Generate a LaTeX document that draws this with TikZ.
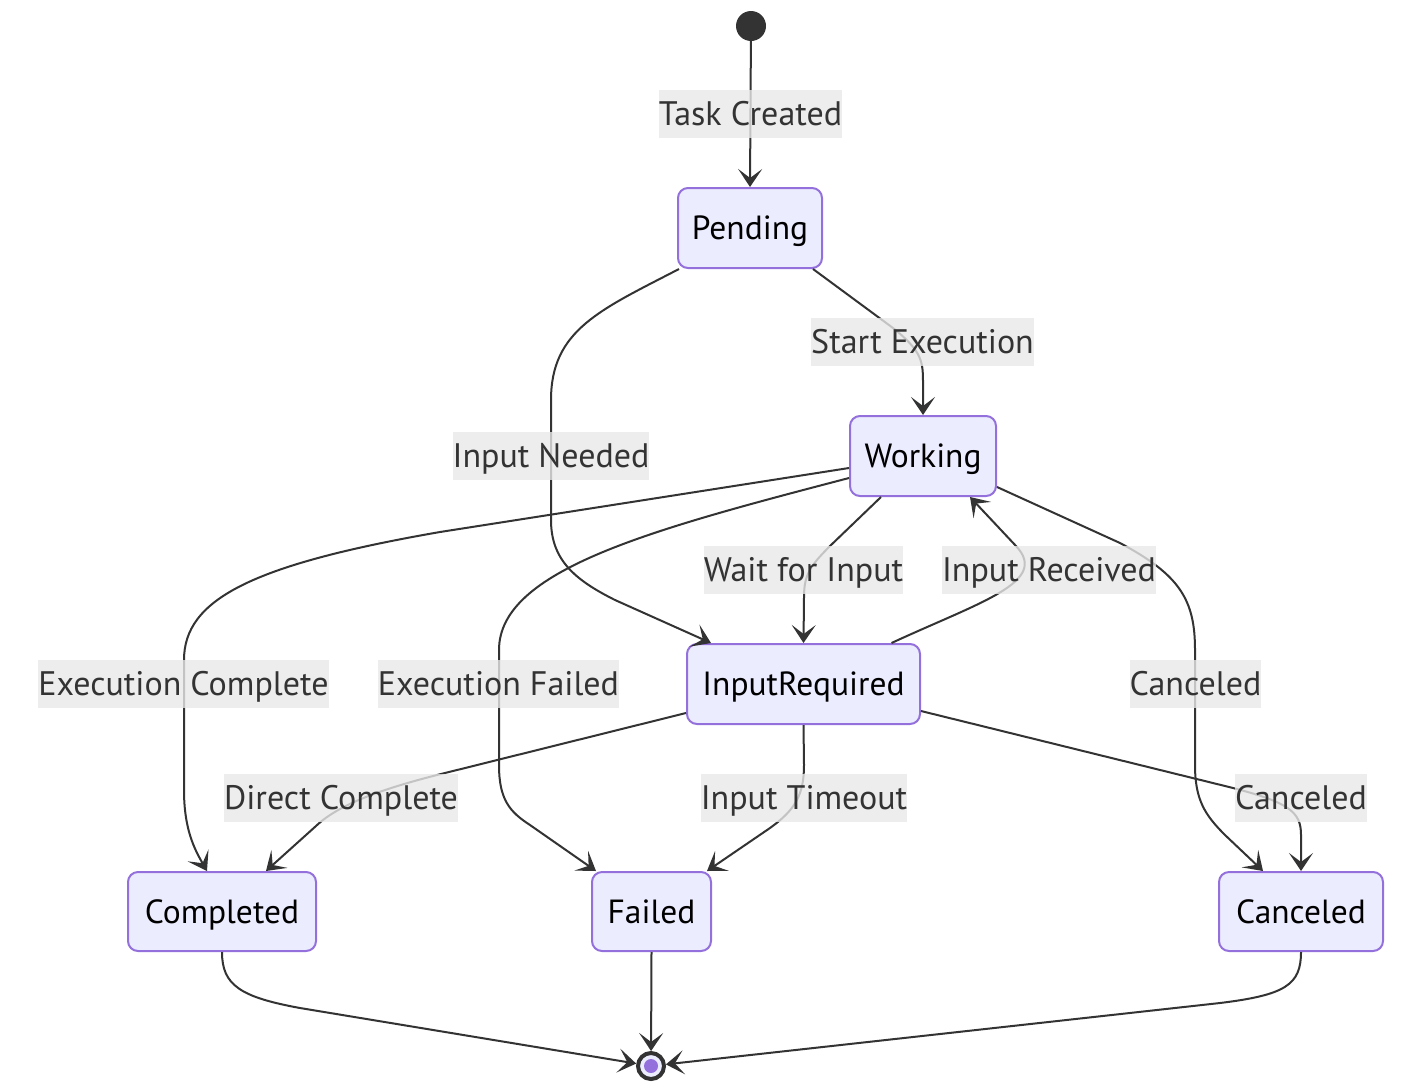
\documentclass[tikz,border=0pt]{standalone}
\usepackage{fontspec}
\setmainfont{PT Sans}
\usetikzlibrary{arrows.meta}
\definecolor{nodefill}{HTML}{ECECFF}
\definecolor{nodeborder}{HTML}{9370DB}
\definecolor{edgecol}{HTML}{333333}
\definecolor{lblfill}{HTML}{E8E8E8}
\begin{document}
\begin{tikzpicture}[x=1pt,y=-1pt,
 state/.style={draw=nodeborder, fill=nodefill, line width=2pt, rounded corners=10pt,
   font=\fontsize{33.5}{40}\selectfont, text=black, inner sep=0pt, text height=23.4pt, text depth=0pt},
 elabel/.style={fill=lblfill, fill opacity=0.8, text opacity=1, text=edgecol, inner sep=0pt,
   minimum height=48pt, font=\fontsize{34}{40}\selectfont, text height=23.8pt, text depth=0pt},
 conn/.style={draw=edgecol, line width=2pt, -{Stealth[length=18pt,width=24pt,inset=9pt]}},
]
\useasboundingbox (0,0) rectangle (1412,1090);

% states
\node[circle, fill=edgecol, minimum size=30pt, inner sep=0pt] (start) at (751,26) {};
\node[state, minimum width=144pt, minimum height=80pt] (pending) at (750,228) {Pending};
\node[state, minimum width=146pt, minimum height=80pt] (working) at (923,456) {Working};
\node[state, minimum width=233pt, minimum height=80pt] (inputreq) at (803.5,684) {InputRequired};
\node[state, minimum width=188pt, minimum height=79pt] (completed) at (222,911.5) {Completed};
\node[state, minimum width=119pt, minimum height=79pt] (failed) at (651.5,911.5) {Failed};
\node[state, minimum width=164pt, minimum height=79pt] (canceled) at (1301,911.5) {Canceled};
\node[circle, draw=edgecol, line width=4pt, fill=nodefill, minimum size=26pt, inner sep=0pt] (endst) at (651,1066) {};
\node[circle, fill=nodeborder, minimum size=14pt, inner sep=0pt] (enddot) at (endst.center) {};

% connectors
\draw[conn] (start) -- (pending.north);
\draw[conn] ([xshift=-10pt]pending.south east) -- (893,328) .. controls (923,352) and (923,362) .. (923,385) -- (working.north);
\draw[conn] ([xshift=2pt]pending.south west) .. controls (600,310) and (551,330) .. (551,400) -- (551,520)
  .. controls (551,560) and (575,580) .. (615,600) -- ([xshift=25pt]inputreq.north west);
\draw[conn] ([yshift=-12pt]working.west) -- (440,532) .. controls (250,565) and (184,600) .. (184,660) -- (184,790)
  .. controls (184,830) and (195,850) .. ([xshift=-15pt]completed.north);
\draw[conn] ([yshift=-22pt]working.west) .. controls (650,530) and (499,570) .. (499,650) -- (499,765)
  .. controls (499,800) and (510,812) .. (530,825) -- ([xshift=5pt]failed.north west);
\draw[conn] ([xshift=-42pt]working.south) -- (830,546) .. controls (810,566) and (804,575) .. (804,597) -- (inputreq.north);
\draw[conn] ([xshift=88pt]inputreq.north) .. controls (980,602) and (1050,582) .. (1016,546) -- ([xshift=47pt]working.south);
\draw[conn] ([yshift=-31pt]working.east) -- (1120,543) .. controls (1180,575) and (1195,600) .. (1195,650) -- (1195,765)
  .. controls (1195,800) and (1205,815) .. (1225,835) -- ([xshift=-38pt]canceled.north);
\draw[conn] ([yshift=-29pt]inputreq.west) -- (445,773) .. controls (380,789) and (338,805) .. (316,826) -- ([xshift=44pt]completed.north);
\draw[conn] (inputreq.south) -- (804,765) .. controls (804,795) and (795,810) .. (770,828) -- ([xshift=-5pt]failed.north east);
\draw[conn] ([yshift=-27pt]inputreq.east) -- (1225,786) .. controls (1290,802) and (1301,812) .. (1301,835) -- (canceled.north);
\draw[conn] (completed.south) .. controls (222,985) and (240,997) .. (300,1008) -- (endst);
\draw[conn] (failed.south) -- (endst);
\draw[conn] (canceled.south) .. controls (1301,985) and (1285,995) .. (1220,1003) -- (endst);

% edge labels
\node[elabel, minimum width=183pt] (l1) at (750.5,113.5) {Task Created};
\node[elabel, minimum width=219pt] (l2) at (922.5,342) {Start Execution};
\node[elabel, minimum width=192pt] (l3) at (551,456) {Input Needed};
\node[elabel, minimum width=199pt] (l4) at (803.5,570) {Wait for Input};
\node[elabel, minimum width=212pt] (l5) at (1049,570) {Input Received};
\node[elabel, minimum width=287pt] (l6) at (183.5,684) {Execution Complete};
\node[elabel, minimum width=237pt] (l7) at (498.5,684) {Execution Failed};
\node[elabel, minimum width=131pt] (l8) at (1195.5,684) {Canceled};
\node[elabel, minimum width=234pt] (l9) at (341,798) {Direct Complete};
\node[elabel, minimum width=200pt] (l10) at (804,798) {Input Timeout};
\node[elabel, minimum width=130pt] (l11) at (1301,798) {Canceled};
\end{tikzpicture}
\end{document}
